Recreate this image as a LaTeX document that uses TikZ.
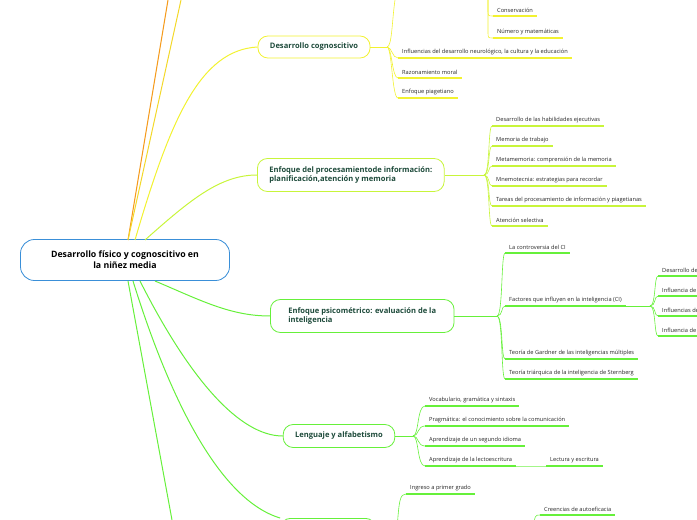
\documentclass[tikz,border=0pt]{standalone}
\usepackage{fontspec}
\setmainfont{Open Sans}
\definecolor{cyel}{HTML}{F2F230}
\definecolor{cyg}{HTML}{C8F53A}
\definecolor{cgr}{HTML}{66F03A}
\definecolor{corg}{HTML}{F59A1A}
\definecolor{ctxt}{HTML}{1D4A3A}
\definecolor{cblue}{HTML}{3A8FD8}
\tikzset{
  leaf/.style={anchor=south west,inner xsep=4pt,inner ysep=3pt,font=\fontsize{5.7}{6}\selectfont,text=black!85},
  ul/.style={draw=#1,line width=1.4pt},
  topic/.style={draw=#1,rounded corners=10pt,fill=white,line width=0.8pt,font=\bfseries\fontsize{7.6}{10}\selectfont,text=ctxt,align=left,inner xsep=12pt},
  link/.style={draw=#1,line width=0.6pt},
  mainlink/.style={draw=#1,line width=1pt}
}
\newcommand{\uline}[2]{\draw[ul=#2] (#1.south west) -- (#1.south east);}
\begin{document}
\begin{tikzpicture}[x=1bp,y=-1bp]
\useasboundingbox (0,0) rectangle (697,520);
\clip (0,0) rectangle (697,520);
% central
\node[draw=cblue,line width=0.8pt,rounded corners=14pt,fill=white,minimum width=209bp,minimum height=41bp,align=center,font=\bfseries\fontsize{8.8}{11}\selectfont] (c) at (125,260) {Desarrollo físico y cognoscitivo en\\la niñez media};
\coordinate (ct1) at (128,240);
\coordinate (ct2) at (135,240);
\coordinate (ct3) at (145,240);
\coordinate (cb1) at (128,281);
\coordinate (cb2) at (133,281);
\coordinate (cb3) at (140,281);
\coordinate (cb4) at (155,281);
\coordinate (o1) at (168,0);
\coordinate (o2) at (181,0);
\draw[mainlink=corg] (ct1) -- (o1);
\draw[mainlink=cyel!70!corg] (ct1) -- (o2);
% topics
\node[topic=cyel,minimum height=22bp] (dc) at (314,47) {Desarrollo cognoscitivo};
\node[topic=cyg,minimum height=33bp,anchor=west] (pi) at (257,175) {Enfoque del procesamientode información:\\planificación,atención y memoria};
\node[topic=cgr,minimum height=33bp,anchor=west,inner xsep=18pt] (ps) at (270,316) {Enfoque psicométrico: evaluación de la\\inteligencia};
\node[topic=cgr,minimum height=23bp] (la) at (339,436) {Lenguaje y alfabetismo};
\node[topic=cgr,minimum height=23bp,minimum width=95bp,anchor=north] (bt) at (328,518) {};
\draw[mainlink=cyel] (ct2) .. controls (170,120) and (200,50) .. (dc.west);
\draw[mainlink=cyg] (ct3) .. controls (190,200) and (220,175) .. (pi.west);
\draw[mainlink=cgr] (cb4) .. controls (200,300) and (230,316) .. (ps.west);
\draw[mainlink=cgr] (cb3) .. controls (190,380) and (240,436) .. (la.west);
\draw[mainlink=cgr] (cb2) .. controls (170,400) and (220,500) .. (bt.north west);
\coordinate (bl) at (172,520);
\draw[mainlink=cgr] (cb1) -- (bl);
% Desarrollo cognoscitivo leaves
\coordinate (fdc) at (387,47);
\coordinate (tdc) at (395,0);
\draw[link=cyel] (dc.east) -- (fdc);
\draw[link=cyel] (fdc) .. controls (392,47) and (392,20) .. (tdc);
\node[leaf] (l1) at (398,58) {Influencias del desarrollo neurológico, la cultura y la educación};
\node[leaf] (l2) at (398,78) {Razonamiento moral};
\node[leaf] (l3) at (398,98) {Enfoque piagetiano};
\foreach \n in {l1,l2,l3}{\uline{\n}{cyel}\draw[link=cyel] (fdc) .. controls +(5,0) and +(-6,0) .. (\n.south west);}
\coordinate (tcs) at (488,0);
\node[leaf] (l4) at (493,16) {Conservación};
\node[leaf] (l5) at (493,38) {Número y matemáticas};
\uline{l4}{cyel}\uline{l5}{cyel}
\draw[link=cyel] (tcs) -- (488,10) .. controls (488,16) .. (l4.south west);
\draw[link=cyel] (tcs) -- (488,32) .. controls (488,38) .. (l5.south west);
% procesamiento
\coordinate (fpi) at (484,175);
\draw[link=cyg] (pi.east) -- (fpi);
\foreach \t/\y [count=\i] in {Desarrollo de las habilidades ejecutivas/126,Memoria de trabajo/146,Metamemoria: comprensión de la memoria/166,Mnemotecnia: estrategias para recordar/186,Tareas del procesamiento de información y piagetianas/206,Atención selectiva/226}{
  \node[leaf] (p\i) at (492,\y) {\t};
  \uline{p\i}{cyg}
  \draw[link=cyg] (fpi) .. controls (490,175) and (488,\y) .. (p\i.south west);
}
% psicometrico
\coordinate (fps) at (497,316);
\draw[link=cgr] (ps.east) -- (fps);
\foreach \t/\y [count=\i] in {La controversia del CI/253,Factores que influyen en la inteligencia (CI)/306,Teoría de Gardner de las inteligencias múltiples/359,Teoría triárquica de la inteligencia de Sternberg/379}{
  \node[leaf] (s\i) at (505,\y) {\t};
  \uline{s\i}{cgr}
  \draw[link=cgr] (fps) .. controls (503,316) and (501,\y) .. (s\i.south west);
}
\coordinate (ffa) at (650,306);
\draw[link=cgr] (s2.south east) -- (ffa);
\foreach \t/\y [count=\i] in {Desarrollo del cerebro/276,Influencia de la escolaridad/296,Influencias de la raza/316,Influencia de la cultura/336}{
  \node[leaf] (f\i) at (658,\y) {\t};
  \draw[ul=cgr] (f\i.south west) -- ++(60,0);
  \draw[link=cgr] (ffa) .. controls (656,306) and (654,\y) .. (f\i.south west);
}
% lenguaje
\coordinate (fla) at (413,436);
\draw[link=cgr] (la.east) -- (fla);
\foreach \t/\y [count=\i] in {{Vocabulario, gramática y sintaxis}/406,Pragmática: el conocimiento sobre la comunicación/426,Aprendizaje de un segundo idioma/446,Aprendizaje de la lectoescritura/466}{
  \node[leaf] (g\i) at (425,\y) {\t};
  \uline{g\i}{cgr}
  \draw[link=cgr] (fla) .. controls (419,436) and (417,\y) .. (g\i.south west);
}
\node[leaf] (g5) at (546,466) {Lectura y escritura};
\uline{g5}{cgr}
\draw[link=cgr!60] (g4.south east) -- (g5.south west);
% bottom topic
\coordinate (fbt) at (397,530);
\node[leaf] (b1) at (406,494) {Ingreso a primer grado};
\uline{b1}{cgr}
\draw[link=cgr] (fbt) .. controls (399,500) and (400,494) .. (b1.south west);
\coordinate (fcr) at (533,530);
\node[leaf] (b2) at (540,515) {Creencias de autoeficacia};
\uline{b2}{cgr}
\draw[link=cgr] (fcr) .. controls (535,515) .. (b2.south west);
\end{tikzpicture}
\end{document}
